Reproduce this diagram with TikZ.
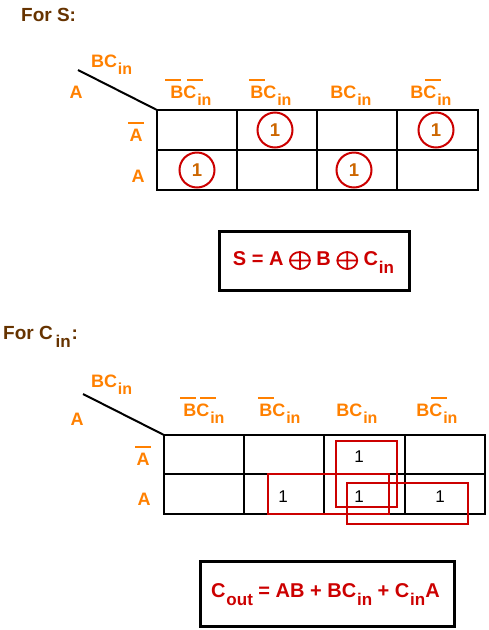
\documentclass[tikz,border=0pt]{standalone}
\usepackage{fontspec}
\setmainfont{Liberation Sans}
\definecolor{kor}{HTML}{FF8000}
\definecolor{kbr}{HTML}{663300}
\definecolor{kred}{HTML}{CC0000}
\definecolor{kone}{HTML}{CC6600}
\newsavebox\obx
\newcommand\ob[2][-1.5pt]{\sbox\obx{#2}\rlap{\kern#1\rule[\dimexpr\ht\obx+4.5pt\relax]{\dimexpr\wd\obx+3pt\relax}{2.2pt}}\usebox\obx}
\newcommand\mysub[1]{\kern0.8pt\raisebox{-7pt}{\fontsize{16}{16}\selectfont #1}}
\newcommand\mysubB[1]{\kern0.8pt\raisebox{-8pt}{\fontsize{17}{17}\selectfont #1}}
\newcommand\xo{\tikz[baseline=-4.5pt,x=1pt,y=1pt]{\draw[line width=1.8pt,kred] (0,0) ellipse [x radius=10, y radius=8.5] (-10,0) -- (10,0) (0,-8.5) -- (0,8.5);}}
\tikzset{
  lab/.style={text=kor, font=\bfseries\fontsize{18}{18}\selectfont, inner sep=0pt, anchor=base},
  head/.style={text=kbr, font=\bfseries\fontsize{19}{19}\selectfont, inner sep=0pt, anchor=base west},
  gridln/.style={line width=2.6pt, black},
  diag/.style={line width=2pt, black},
  onec/.style={circle, draw=kred, line width=2pt, minimum size=35pt, inner sep=0pt, text=kone, font=\bfseries\fontsize{18.5}{18.5}\selectfont},
  oneb/.style={inner sep=0pt, text=black, font=\fontsize{17}{17}\selectfont},
  grp/.style={draw=kred, line width=2.4pt},
  fbox/.style={draw=black, line width=3pt, inner sep=0pt},
  formula/.style={text=kred, font=\bfseries\fontsize{20}{20}\selectfont, inner sep=0pt, anchor=base}
}
\begin{document}
\begin{tikzpicture}[x=1pt,y=-1pt]
\useasboundingbox (0,0) rectangle (488,630);
% ---------- For S ----------
\node[head] (forS) at (21,21) {For S:};
\coordinate (tc) at (157,110);
\coordinate (td) at (78,70);
\draw[gridln] (157,110) rectangle (478,190);
\draw[gridln] (157,150) -- (478,150);
\draw[gridln] (237,110) -- (237,190) (317,110) -- (317,190) (397,110) -- (397,190);
\draw[diag] (td) -- (tc);
\node[lab, anchor=base west] (tbc) at (91,67) {BC\mysub{in}};
\node[lab] (ta) at (76,98) {A};
\node[lab] (th1) at (191,98) {\ob[-5pt]{B}\ob[4pt]{C}\mysub{in}};
\node[lab] (th2) at (271,98) {\ob{B}C\mysub{in}};
\node[lab] (th3) at (351,98) {BC\mysub{in}};
\node[lab] (th4) at (431,98) {B\ob[1.5pt]{C}\mysub{in}};
\node[lab] (tr1) at (136,141) {\ob{A}};
\node[lab] (tr2) at (138,182) {A};
\node[onec] (c1) at (275,130) {1};
\node[onec] (c2) at (436,130) {1};
\node[onec] (c3) at (197,170) {1};
\node[onec] (c4) at (354,170) {1};
\node[fbox, minimum width=190pt, minimum height=59pt] (sbox) at (314.5,261) {};
\node[formula] (sf) at (313.5,265) {S = A \xo{} B \xo{} C\mysubB{in}};
% ---------- For C ----------
\node[head] (forC) at (3,339) {For C\kern2pt\mysubB{in}\kern1pt:};
\coordinate (bc) at (164,435);
\coordinate (bd) at (83,394);
\draw[gridln] (164,435) rectangle (485,514);
\draw[gridln] (164,474) -- (485,474);
\draw[gridln] (244,435) -- (244,514) (324,435) -- (324,514) (405,435) -- (405,514);
\draw[diag] (bd) -- (bc);
\node[lab, anchor=base west] (bbc) at (91,387) {BC\mysub{in}};
\node[lab] (ba) at (77,425) {A};
\node[lab] (bh1) at (204,416) {\ob[-3pt]{B}\ob[4pt]{C}\mysub{in}};
\node[lab] (bh2) at (280,416) {\ob{B}C\mysub{in}};
\node[lab] (bh3) at (357,416) {BC\mysub{in}};
\node[lab] (bh4) at (437,416) {B\ob[1.5pt]{C}\mysub{in}};
\node[lab] (br1) at (143,465) {\ob{A}};
\node[lab] (br2) at (144,505) {A};
\node[oneb] (o1) at (359,457) {1};
\node[oneb] (o2) at (283,497) {1};
\node[oneb] (o3) at (359,497) {1};
\node[oneb] (o4) at (440,497) {1};
\draw[grp] (336,441) rectangle (397,507);
\draw[grp] (268,474) rectangle (389,514);
\draw[grp] (347,483) rectangle (468,524);
\node[fbox, minimum width=254pt, minimum height=65pt] (cbox) at (327.5,594) {};
\node[formula] (cf) at (325.5,597) {C\mysubB{out} = AB + BC\mysubB{in} + C\mysubB{in}A};
\end{tikzpicture}
\end{document}
